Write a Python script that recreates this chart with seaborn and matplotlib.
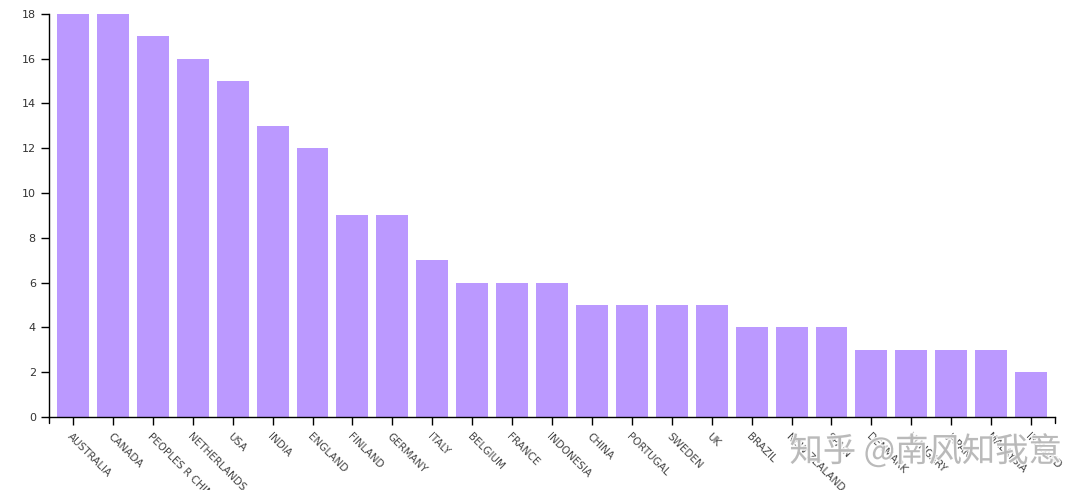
import matplotlib
matplotlib.use("Agg")
import matplotlib.pyplot as plt
import matplotlib.patheffects as pe
import seaborn as sns
import pandas as pd

countries = ["AUSTRALIA", "CANADA", "PEOPLES R CHINA", "NETHERLANDS", "USA", "INDIA",
             "ENGLAND", "FINLAND", "GERMANY", "ITALY", "BELGIUM", "FRANCE", "INDONESIA",
             "CHINA", "PORTUGAL", "SWEDEN", "UK", "BRAZIL", "NEW ZEALAND", "SPAIN",
             "DENMARK", "HUNGARY", "JAPAN", "MALAYSIA", "IRELAND"]
counts = [18, 18, 17, 16, 15, 13, 12, 9, 9, 7, 6, 6, 6, 5, 5, 5, 5, 4, 4, 4, 3, 3, 3, 3, 2]
y_ticks = [0, 2, 4, 6, 8, 10, 12, 14, 16, 18]

df = pd.DataFrame({"country": countries, "count": counts})

sns.set_style("white")
plt.rcParams['font.family'] = ['DejaVu Sans', 'Noto Sans CJK SC']

fig = plt.figure(figsize=(10.8, 4.9), dpi=100)
ax = fig.add_axes([0.0454, 0.149, 0.9315, 0.8226])

sns.barplot(data=df, x="country", y="count", color="#bb99ff", saturation=1,
            width=0.8, linewidth=0, ax=ax)

# band scale with 0.2 padding on the outside as well
ax.set_xlim(-0.6, len(countries) - 0.4)
ax.set_ylim(0, 18)
ax.set_yticks(y_ticks)
ax.set_yticklabels([str(v) for v in y_ticks], fontsize=8, color="#333333")
ax.set_xticks(range(len(countries)))
ax.set_xticklabels(countries, rotation=-45, ha="left", va="top",
                   rotation_mode="anchor", fontsize=7.5, color="#444444")
ax.tick_params(axis="both", length=6, width=1, color="black", direction="out",
               bottom=True, left=True)
ax.tick_params(axis="x", pad=4)
ax.set_xlabel("")
ax.set_ylabel("")
for s in ["top", "right"]:
    ax.spines[s].set_visible(False)
for s in ["left", "bottom"]:
    ax.spines[s].set_color("black")
    ax.spines[s].set_linewidth(1)

# end ticks of the x-axis domain
for xe in [-0.6, len(countries) - 0.4]:
    ax.plot([xe, xe], [0, -0.27], color="black", lw=1, clip_on=False)

fig.text(0.731, 0.078, "知乎 @南风知我意", fontsize=24, color="#b0b0b0", alpha=0.85,
         va="center", family=["Noto Sans CJK SC", "DejaVu Sans"],
         path_effects=[pe.withStroke(linewidth=2, foreground="white")])

fig.savefig("out.png", dpi=100)
